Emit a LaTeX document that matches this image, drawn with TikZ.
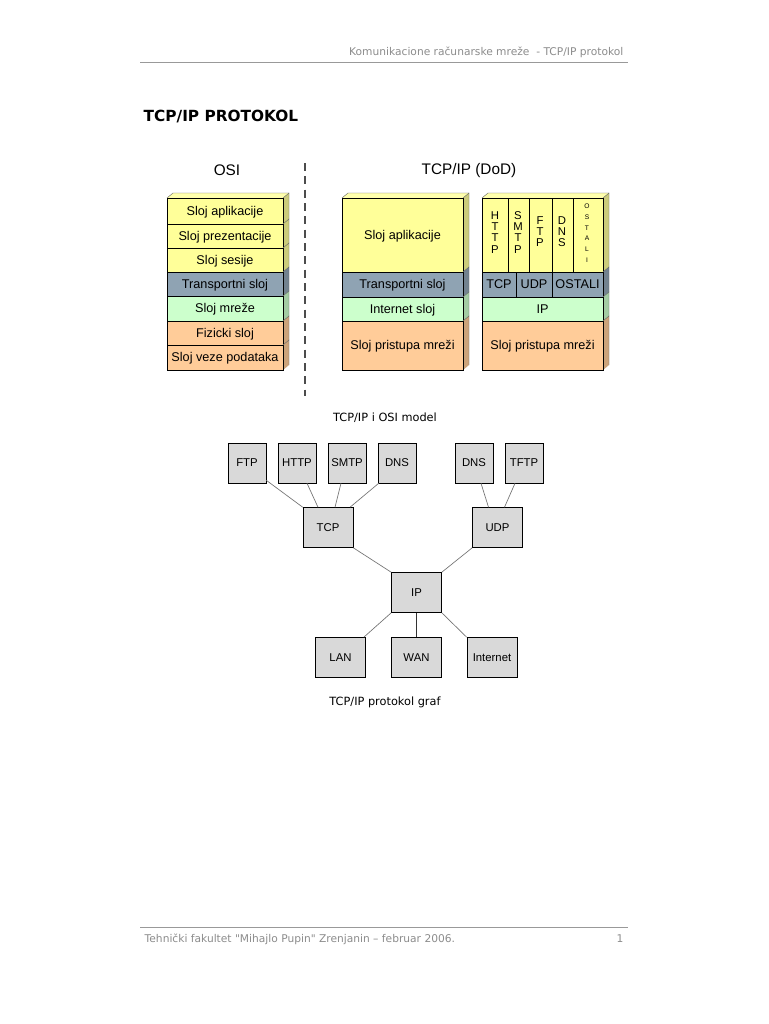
\documentclass[tikz,border=0pt]{standalone}
\usepackage{fontspec}
\usetikzlibrary{calc}
\setmainfont{Liberation Sans}
\newfontfamily\vfont{DejaVu Sans}
\definecolor{cyel}{HTML}{FFFF99}
\definecolor{cblu}{HTML}{8FA3B3}
\definecolor{cgrn}{HTML}{CCFFCC}
\definecolor{corg}{HTML}{FFCC99}
\definecolor{cgbox}{HTML}{D9D9D9}
\begin{document}
\begin{tikzpicture}[x=0.75pt,y=-0.75pt,
  gbox/.style={draw,fill=cgbox,minimum width=38*0.75pt,minimum height=40*0.75pt,inner sep=0pt,font=\fontsize{8.5}{9}\selectfont},
  glink/.style={draw=black!55,line width=0.5pt},
  lbl/.style={font=\fontsize{9.5}{10}\selectfont,inner sep=0pt}]
\useasboundingbox[fill=white] (0,0) rectangle (768,1024);
% header
\node[anchor=base east,text=black!45,font=\vfont\fontsize{8}{9}\selectfont] (hdr) at (628,56) {Komunikacione računarske mreže \ - TCP/IP protokol};
\draw[black!40,line width=0.4pt] (140,62) -- (628,62);
\node[anchor=base west,font=\vfont\bfseries\fontsize{11.5}{13}\selectfont] (ttl) at (139,121) {TCP/IP PROTOKOL};
% footer
\draw[black!40,line width=0.4pt] (140,927) -- (628,927);
\node[anchor=base west,text=black!45,font=\vfont\fontsize{8}{9}\selectfont] (ftr) at (140,942) {Tehnički fakultet "Mihajlo Pupin" Zrenjanin – februar 2006.};
\node[anchor=base east,text=black!45,font=\vfont\fontsize{8}{9}\selectfont] (pg) at (628,942) {1};
\newcommand\lay[6]{% x1,x2,y1,y2,color,text
  \fill[#5!80!black] (#2,#3) -- (#2+6,#3-5) -- (#2+6,#4-5) -- (#2,#4) -- cycle;
  \draw[line width=0.3pt,black!60] (#2,#3) -- (#2+6,#3-5) -- (#2+6,#4-5);
  \draw[fill=#5,line width=0.5pt] (#1,#3) rectangle (#2,#4);
  \node[lbl,anchor=base] at ({(#1+#2)/2},{(#3+#4)/2+4}) {#6};}
\newcommand\topf[4]{% x1,x2,y,color
  \fill[#4!80!white] (#1,#3) -- (#1+6,#3-5) -- (#2+6,#3-5) -- (#2,#3) -- cycle;
  \draw[line width=0.3pt,black!60] (#1,#3) -- (#1+6,#3-5) -- (#2+6,#3-5);}
% titles
\node[font=\fontsize{11.5}{13}\selectfont] (osi) at (227,170) {OSI};
\node[font=\fontsize{11.5}{13}\selectfont] (dod) at (469,171) {TCP/IP (DoD)};
\draw[line width=1pt,black!70,dash pattern=on 6pt off 4pt] (305,163) -- (305,396);
% OSI
\topf{167}{283}{198}{cyel}
\lay{167}{283}{198}{224}{cyel}{Sloj aplikacije}
\lay{167}{283}{224}{248}{cyel}{Sloj prezentacije}
\lay{167}{283}{248}{272}{cyel}{Sloj sesije}
\lay{167}{283}{272}{296}{cblu}{Transportni sloj}
\lay{167}{283}{296}{321}{cgrn}{Sloj mreže}
\lay{167}{283}{321}{345}{corg}{Fizicki sloj}
\lay{167}{283}{345}{370}{corg}{Sloj veze podataka}
% middle
\topf{342}{463}{198}{cyel}
\lay{342}{463}{198}{272}{cyel}{Sloj aplikacije}
\lay{342}{463}{272}{297}{cblu}{Transportni sloj}
\lay{342}{463}{297}{321}{cgrn}{Internet sloj}
\lay{342}{463}{321}{370}{corg}{Sloj pristupa mreži}
% right
\topf{482}{603}{198}{cyel}
\lay{482}{603}{198}{272}{cyel}{}
\foreach \xx in {508,529,552,573} \draw[line width=0.5pt] (\xx,198) -- (\xx,272);
\node[lbl,align=center,font=\fontsize{8.5}{8.5}\selectfont,anchor=north] (h1) at (495,211) {H\\T\\T\\P};
\node[lbl,align=center,font=\fontsize{8.5}{8.5}\selectfont,anchor=north] (h2) at (518,211) {S\\M\\T\\P};
\node[lbl,align=center,font=\fontsize{8.5}{8.5}\selectfont,anchor=north] (h3) at (540,216) {F\\T\\P};
\node[lbl,align=center,font=\fontsize{8.5}{8.5}\selectfont,anchor=north] (h4) at (562,216) {D\\N\\S};
\node[lbl,align=center,font=\fontsize{5}{8}\selectfont,anchor=north] (h5) at (587,204) {O\\S\\T\\A\\L\\I};
\lay{482}{603}{272}{297}{cblu}{}
\draw[line width=0.5pt] (516,272) -- (516,297) (552,272) -- (552,297);
\node[lbl,anchor=base] (t1) at (499,288.5) {TCP};
\node[lbl,anchor=base] (t2) at (534,288.5) {UDP};
\node[lbl,anchor=base] (t3) at (577.5,288.5) {OSTALI};
\lay{482}{603}{297}{321}{cgrn}{IP}
\lay{482}{603}{321}{370}{corg}{Sloj pristupa mreži}
\node[font=\vfont\fontsize{8.5}{10}\selectfont] (cap1) at (385,418) {TCP/IP i OSI model};
% graph
\node[gbox] (ftp) at (247,463) {FTP};
\node[gbox] (http) at (297,463) {HTTP};
\node[gbox] (smtp) at (347,463) {SMTP};
\node[gbox] (dns1) at (397,463) {DNS};
\node[gbox] (dns2) at (474,463) {DNS};
\node[gbox] (tftp) at (524,463) {TFTP};
\node[gbox,minimum width=50*0.75pt] (tcp) at (328,527.5) {TCP};
\node[gbox,minimum width=50*0.75pt] (udp) at (497.5,527.5) {UDP};
\node[gbox,minimum width=50*0.75pt] (ip) at (416.5,592.5) {IP};
\node[gbox,minimum width=50*0.75pt] (lan) at (340.5,657.5) {LAN};
\node[gbox,minimum width=50*0.75pt] (wan) at (416.5,657.5) {WAN};
\node[gbox,minimum width=50*0.75pt] (inet) at (492,657.5) {Internet};
\draw[glink] ($(ftp.south east)+(0,-3)$) -- (tcp.north west);
\draw[glink] ($(http.south)+(10,0)$) -- ($(tcp.north)+(-10,0)$);
\draw[glink] ($(smtp.south)+(-6,0)$) -- ($(tcp.north)+(7,0)$);
\draw[glink] ($(dns1.south west)+(1,0)$) -- ($(tcp.north)+(22,0)$);
\draw[glink] ($(dns2.south)+(7,0)$) -- ($(udp.north)+(-9,0)$);
\draw[glink] ($(tftp.south)+(-9,0)$) -- ($(udp.north)+(7,0)$);
\draw[glink] (tcp.south east) -- (ip.north west);
\draw[glink] (udp.south west) -- (ip.north east);
\draw[glink] (ip.south west) -- ($(lan.north east)+(-2,0)$);
\draw[line width=0.6pt,black!80] (ip.south) -- (wan.north);
\draw[glink] (ip.south east) -- (inet.north west);
\node[font=\vfont\fontsize{8.5}{10}\selectfont] (cap2) at (385,702) {TCP/IP protokol graf};
\end{tikzpicture}
\end{document}
